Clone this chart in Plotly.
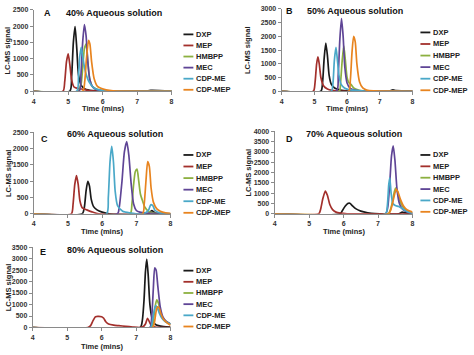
import plotly.graph_objects as go

SERIES = ["DXP", "MEP", "HMBPP", "MEC", "CDP-ME", "CDP-MEP"]
COLORS = ["#1a1a1a", "#a3302c", "#8cb040", "#5f4596", "#4aa8c8", "#e8841f"]

PANEL_LETTERS = ["A", "B", "C", "D", "E"]
PANEL_TITLES = ["40% Aqueous solution", "50% Aqueous solution", "60% Aqueous solution",
                "70% Aqueous solution", "80% Aqueous solution"]
Y_MAX = [2500, 3000, 2500, 4000, 3500]
X_TICKS = [4, 5, 6, 7, 8]
X_TITLE = "Time (mins)"
Y_TITLE = "LC-MS signal"

# ---- Panel A (40%) ----
A_DXP_T = [4, 5.05, 5.1, 5.15, 5.2, 5.25, 5.3, 5.38, 5.5, 5.7, 6, 7.3, 7.4, 8]
A_DXP_Y = [0, 0, 450, 1500, 1990, 1300, 500, 180, 60, 20, 10, 10, 30, 10]
A_MEP_T = [4, 4.85, 4.9, 4.95, 5.0, 5.05, 5.1, 5.17, 5.3, 5.45, 5.6, 6, 8]
A_MEP_Y = [0, 0, 300, 900, 1150, 800, 350, 130, 80, 60, 20, 0, 0]
A_HMBPP_T = [4, 5.3, 5.35, 5.38, 5.42, 5.47, 5.52, 5.57, 5.62, 5.7, 5.85, 6, 8]
A_HMBPP_Y = [0, 0, 150, 250, 700, 1300, 1450, 900, 400, 150, 50, 20, 10]
A_MEC_T = [4, 5.32, 5.37, 5.42, 5.47, 5.52, 5.57, 5.63, 5.72, 5.85, 6, 8]
A_MEC_Y = [0, 0, 500, 1500, 2050, 1700, 900, 350, 120, 40, 10, 0]
A_CDPME_T = [4, 5.25, 5.3, 5.34, 5.38, 5.43, 5.5, 5.6, 5.75, 5.9, 6.1, 8]
A_CDPME_Y = [0, 0, 500, 1100, 1350, 1000, 600, 300, 100, 40, 10, 0]
A_CDPMEP_T = [4, 5.42, 5.48, 5.53, 5.59, 5.63, 5.68, 5.75, 5.85, 5.95, 6.1, 6.3, 8]
A_CDPMEP_Y = [0, 0, 300, 1000, 1560, 1450, 900, 400, 150, 90, 40, 10, 0]

# ---- Panel B (50%) ----
B_DXP_T = [4, 5.2, 5.25, 5.3, 5.35, 5.4, 5.45, 5.52, 5.62, 5.75, 5.9, 7.3, 7.4, 7.5, 8]
B_DXP_Y = [0, 0, 300, 1200, 1750, 1300, 600, 250, 120, 60, 20, 10, 50, 20, 10]
B_MEP_T = [4, 4.97, 5.02, 5.07, 5.11, 5.15, 5.2, 5.28, 5.4, 5.55, 5.8, 8]
B_MEP_Y = [0, 0, 300, 1000, 1250, 1000, 500, 200, 80, 30, 0, 0]
B_HMBPP_T = [4, 5.76, 5.8, 5.85, 5.9, 5.95, 6.0, 6.05, 6.12, 6.2, 6.35, 6.5, 8]
B_HMBPP_Y = [0, 0, 300, 1100, 1650, 1100, 500, 320, 250, 120, 40, 10, 0]
B_MEC_T = [4, 5.68, 5.73, 5.78, 5.83, 5.88, 5.93, 6.0, 6.1, 6.25, 6.5, 8]
B_MEC_Y = [0, 0, 600, 1900, 2650, 2000, 900, 300, 100, 40, 0, 0]
B_CDPME_T = [4, 5.52, 5.57, 5.61, 5.66, 5.7, 5.75, 5.82, 5.92, 6.05, 6.3, 6.6, 8]
B_CDPME_Y = [0, 0, 300, 1100, 1600, 1200, 600, 250, 120, 60, 30, 0, 0]
B_CDPMEP_T = [4, 6.05, 6.1, 6.15, 6.2, 6.25, 6.3, 6.38, 6.48, 6.6, 6.8, 8]
B_CDPMEP_Y = [0, 0, 400, 1400, 2000, 1800, 1000, 350, 120, 40, 10, 0]

# ---- Panel C (60%) ----
C_DXP_T = [4, 5.42, 5.48, 5.53, 5.58, 5.63, 5.68, 5.75, 5.85, 6.0, 6.2, 7.35, 7.45, 7.55, 8]
C_DXP_Y = [0, 0, 200, 700, 1000, 850, 450, 220, 120, 50, 0, 0, 100, 20, 0]
C_MEP_T = [4, 5.1, 5.15, 5.2, 5.25, 5.3, 5.35, 5.42, 5.55, 5.7, 5.9, 8]
C_MEP_Y = [0, 0, 300, 900, 1170, 900, 400, 180, 120, 60, 0, 0]
C_HMBPP_T = [4, 6.82, 6.87, 6.92, 6.97, 7.02, 7.07, 7.12, 7.18, 7.25, 7.35, 7.5, 8]
C_HMBPP_Y = [0, 0, 300, 900, 1300, 1370, 1000, 600, 400, 200, 80, 20, 0]
C_MEC_T = [4, 6.45, 6.5, 6.58, 6.65, 6.72, 6.78, 6.85, 6.92, 7.0, 7.1, 7.3, 8]
C_MEC_Y = [0, 0, 200, 1000, 1900, 2220, 1800, 900, 300, 100, 50, 20, 0]
C_CDPME_T = [4, 6.13, 6.18, 6.23, 6.28, 6.33, 6.38, 6.45, 6.6, 6.8, 7.2, 7.35, 7.42, 7.48, 7.55, 7.7, 8]
C_CDPME_Y = [0, 0, 500, 1600, 2070, 1600, 700, 250, 80, 30, 0, 100, 280, 250, 100, 20, 0]
C_CDPMEP_T = [4, 7.18, 7.23, 7.28, 7.33, 7.38, 7.43, 7.5, 7.6, 7.7, 7.85, 8]
C_CDPMEP_Y = [0, 0, 300, 1000, 1600, 1450, 800, 350, 150, 80, 30, 10]

# ---- Panel D (70%) ----
D_DXP_T = [4, 5.9, 5.98, 6.05, 6.12, 6.18, 6.25, 6.35, 6.5, 6.7, 6.9, 7.6, 7.7, 7.8, 8]
D_DXP_Y = [0, 0, 200, 380, 500, 510, 400, 250, 130, 50, 10, 0, 80, 40, 0]
D_MEP_T = [4, 5.28, 5.33, 5.4, 5.47, 5.53, 5.6, 5.68, 5.78, 5.9, 6.1, 8]
D_MEP_Y = [0, 0, 200, 750, 1100, 900, 450, 200, 80, 30, 0, 0]
D_HMBPP_T = [4, 7.3, 7.36, 7.42, 7.47, 7.51, 7.56, 7.62, 7.7, 7.8, 7.9, 8]
D_HMBPP_Y = [0, 0, 200, 600, 1050, 1250, 1100, 700, 400, 200, 100, 50]
D_MEC_T = [4, 7.22, 7.28, 7.34, 7.39, 7.44, 7.49, 7.55, 7.62, 7.7, 7.8, 7.9, 8]
D_MEC_Y = [0, 0, 300, 1500, 2800, 3300, 2600, 1200, 500, 250, 120, 60, 30]
D_CDPME_T = [4, 7.22, 7.27, 7.31, 7.34, 7.38, 7.43, 7.5, 7.6, 7.7, 7.8, 7.9, 8]
D_CDPME_Y = [0, 0, 400, 1400, 1750, 1000, 500, 400, 350, 250, 150, 60, 20]
D_CDPMEP_T = [4, 7.3, 7.36, 7.42, 7.48, 7.53, 7.58, 7.65, 7.75, 7.85, 8]
D_CDPMEP_Y = [0, 0, 150, 500, 950, 1200, 1050, 700, 350, 180, 80]

# ---- Panel E (80%) ----
E_DXP_T = [4, 7.12, 7.18, 7.23, 7.27, 7.31, 7.35, 7.4, 7.47, 7.55, 7.65, 7.8, 8]
E_DXP_Y = [0, 0, 300, 1200, 2400, 2980, 2300, 1000, 350, 150, 80, 40, 20]
E_MEP_T = [4, 5.6, 5.68, 5.75, 5.82, 5.9, 6.0, 6.06, 6.12, 6.2, 6.35, 6.5, 6.7, 6.9, 7.1,
           7.2, 7.27, 7.33, 7.4, 7.45, 7.55, 8]
E_MEP_Y = [0, 0, 80, 300, 470, 480, 470, 400, 250, 150, 100, 80, 50, 20, 0,
           30, 150, 400, 200, 60, 20, 0]
E_HMBPP_T = [4, 7.45, 7.5, 7.55, 7.6, 7.65, 7.7, 7.78, 7.88, 8]
E_HMBPP_Y = [0, 0, 300, 900, 1200, 1050, 700, 400, 250, 150]
E_MEC_T = [4, 7.4, 7.45, 7.5, 7.54, 7.58, 7.63, 7.7, 7.78, 7.88, 8]
E_MEC_Y = [0, 0, 400, 1700, 2600, 2500, 1800, 900, 450, 250, 150]
E_CDPME_T = [4, 7.42, 7.47, 7.52, 7.57, 7.62, 7.68, 7.75, 7.85, 8]
E_CDPME_Y = [0, 0, 250, 700, 950, 850, 600, 400, 250, 150]
E_CDPMEP_T = [4, 7.48, 7.53, 7.58, 7.62, 7.67, 7.72, 7.8, 7.9, 8]
E_CDPMEP_Y = [0, 0, 200, 700, 900, 850, 600, 350, 200, 100]

DATA = [
    [(A_DXP_T, A_DXP_Y), (A_MEP_T, A_MEP_Y), (A_HMBPP_T, A_HMBPP_Y), (A_MEC_T, A_MEC_Y), (A_CDPME_T, A_CDPME_Y), (A_CDPMEP_T, A_CDPMEP_Y)],
    [(B_DXP_T, B_DXP_Y), (B_MEP_T, B_MEP_Y), (B_HMBPP_T, B_HMBPP_Y), (B_MEC_T, B_MEC_Y), (B_CDPME_T, B_CDPME_Y), (B_CDPMEP_T, B_CDPMEP_Y)],
    [(C_DXP_T, C_DXP_Y), (C_MEP_T, C_MEP_Y), (C_HMBPP_T, C_HMBPP_Y), (C_MEC_T, C_MEC_Y), (C_CDPME_T, C_CDPME_Y), (C_CDPMEP_T, C_CDPMEP_Y)],
    [(D_DXP_T, D_DXP_Y), (D_MEP_T, D_MEP_Y), (D_HMBPP_T, D_HMBPP_Y), (D_MEC_T, D_MEC_Y), (D_CDPME_T, D_CDPME_Y), (D_CDPMEP_T, D_CDPMEP_Y)],
    [(E_DXP_T, E_DXP_Y), (E_MEP_T, E_MEP_Y), (E_HMBPP_T, E_HMBPP_Y), (E_MEC_T, E_MEC_Y), (E_CDPME_T, E_CDPME_Y), (E_CDPMEP_T, E_CDPMEP_Y)],
]

W, H = 474, 355
# pixel layout per panel: x0, x1 (axis), y_top, y_bottom (axis), legend x, legend first y, legend step,
# x-title y, y-title x
PANEL_PX = [
    (32, 171, 6, 89, 183, 31, 11.3, 107, 6),
    (282, 414, 5, 89, 422, 29, 11.8, 107, 247),
    (32, 170, 131, 214, 183, 154, 11.8, 232, 6),
    (275, 414, 130, 214, 422, 154, 11.6, 232, 249),
    (31, 170, 248, 330, 183, 272, 11.4, 349.5, 6),
]
TITLE_PX = [
    (40, 9, 113, 9),
    (284, 7, 356, 7),
    (37, 138, 114, 133),
    (284, 138, 355, 133),
    (36, 253, 114, 251),
]

FONT = "Liberation Sans, Arial, sans-serif"
fig = go.Figure()
layout = dict(width=W, height=H, margin=dict(l=0, r=0, t=0, b=0),
              paper_bgcolor="white", plot_bgcolor="white", showlegend=False)
annotations = []
shapes = []

for p in range(5):
    x0, x1, yt, yb, lx, ly, lstep, xty, ytx = PANEL_PX[p]
    sfx = "" if p == 0 else str(p + 1)
    for s, name in enumerate(SERIES):
        t, y = DATA[p][s]
        fig.add_trace(go.Scatter(x=t, y=y, mode="lines", name=name,
                                 line=dict(color=COLORS[s], width=1.7, shape="spline", smoothing=0.6),
                                 xaxis="x" + sfx, yaxis="y" + sfx))
    layout["xaxis" + sfx] = dict(
        domain=[x0 / W, x1 / W], anchor="y" + sfx, range=[4, 8], tickvals=X_TICKS,
        showgrid=False, zeroline=False, showline=True, linecolor="#8a8a8a", linewidth=1,
        ticks="outside", ticklen=3, tickcolor="#8a8a8a",
        tickfont=dict(family=FONT, size=7, color="#333", weight="bold"),
    )
    layout["yaxis" + sfx] = dict(
        domain=[1 - yb / H, 1 - yt / H], anchor="x" + sfx, range=[0, Y_MAX[p]], dtick=500,
        showgrid=False, zeroline=False, showline=True, linecolor="#8a8a8a", linewidth=1,
        ticks="outside", ticklen=3, tickcolor="#8a8a8a",
        tickfont=dict(family=FONT, size=7, color="#333", weight="bold"),
    )
    # axis titles
    annotations.append(dict(text=X_TITLE, xref="paper", yref="paper", x=(x0 + x1) / 2 / W, y=1 - xty / H,
                            xanchor="center", yanchor="middle", showarrow=False,
                            font=dict(family=FONT, size=7.5, color="#222", weight="bold")))
    annotations.append(dict(text=Y_TITLE, xref="paper", yref="paper", x=ytx / W, y=1 - (yt + yb) / 2 / H,
                            xanchor="center", yanchor="middle", showarrow=False, textangle=-90,
                            font=dict(family=FONT, size=7.5, color="#222", weight="bold")))
    # legend (drawn manually)
    for s, name in enumerate(SERIES):
        yy = ly + s * lstep
        shapes.append(dict(type="line", xref="paper", yref="paper",
                           x0=lx / W, x1=(lx + 10) / W, y0=1 - yy / H, y1=1 - yy / H,
                           line=dict(color=COLORS[s], width=1.8)))
        annotations.append(dict(text=name, xref="paper", yref="paper", x=(lx + 11) / W, y=1 - yy / H,
                                xanchor="left", yanchor="middle", showarrow=False,
                                font=dict(family=FONT, size=7.5, color="#222", weight="bold")))
    lxp, lyp, txp, typ = TITLE_PX[p]
    annotations.append(dict(text=PANEL_LETTERS[p], xref="paper", yref="paper", x=lxp / W, y=1 - lyp / H,
                            xanchor="left", yanchor="middle", showarrow=False,
                            font=dict(family=FONT, size=9, color="#111", weight="bold")))
    annotations.append(dict(text=PANEL_TITLES[p], xref="paper", yref="paper", x=txp / W, y=1 - typ / H,
                            xanchor="center", yanchor="middle", showarrow=False,
                            font=dict(family=FONT, size=9, color="#111", weight="bold")))

layout["annotations"] = annotations
layout["shapes"] = shapes
fig.update_layout(**layout)
fig.write_html("out.html", config={"displayModeBar": False},
               post_script="document.body.style.margin='0';document.body.style.overflow='hidden';")
